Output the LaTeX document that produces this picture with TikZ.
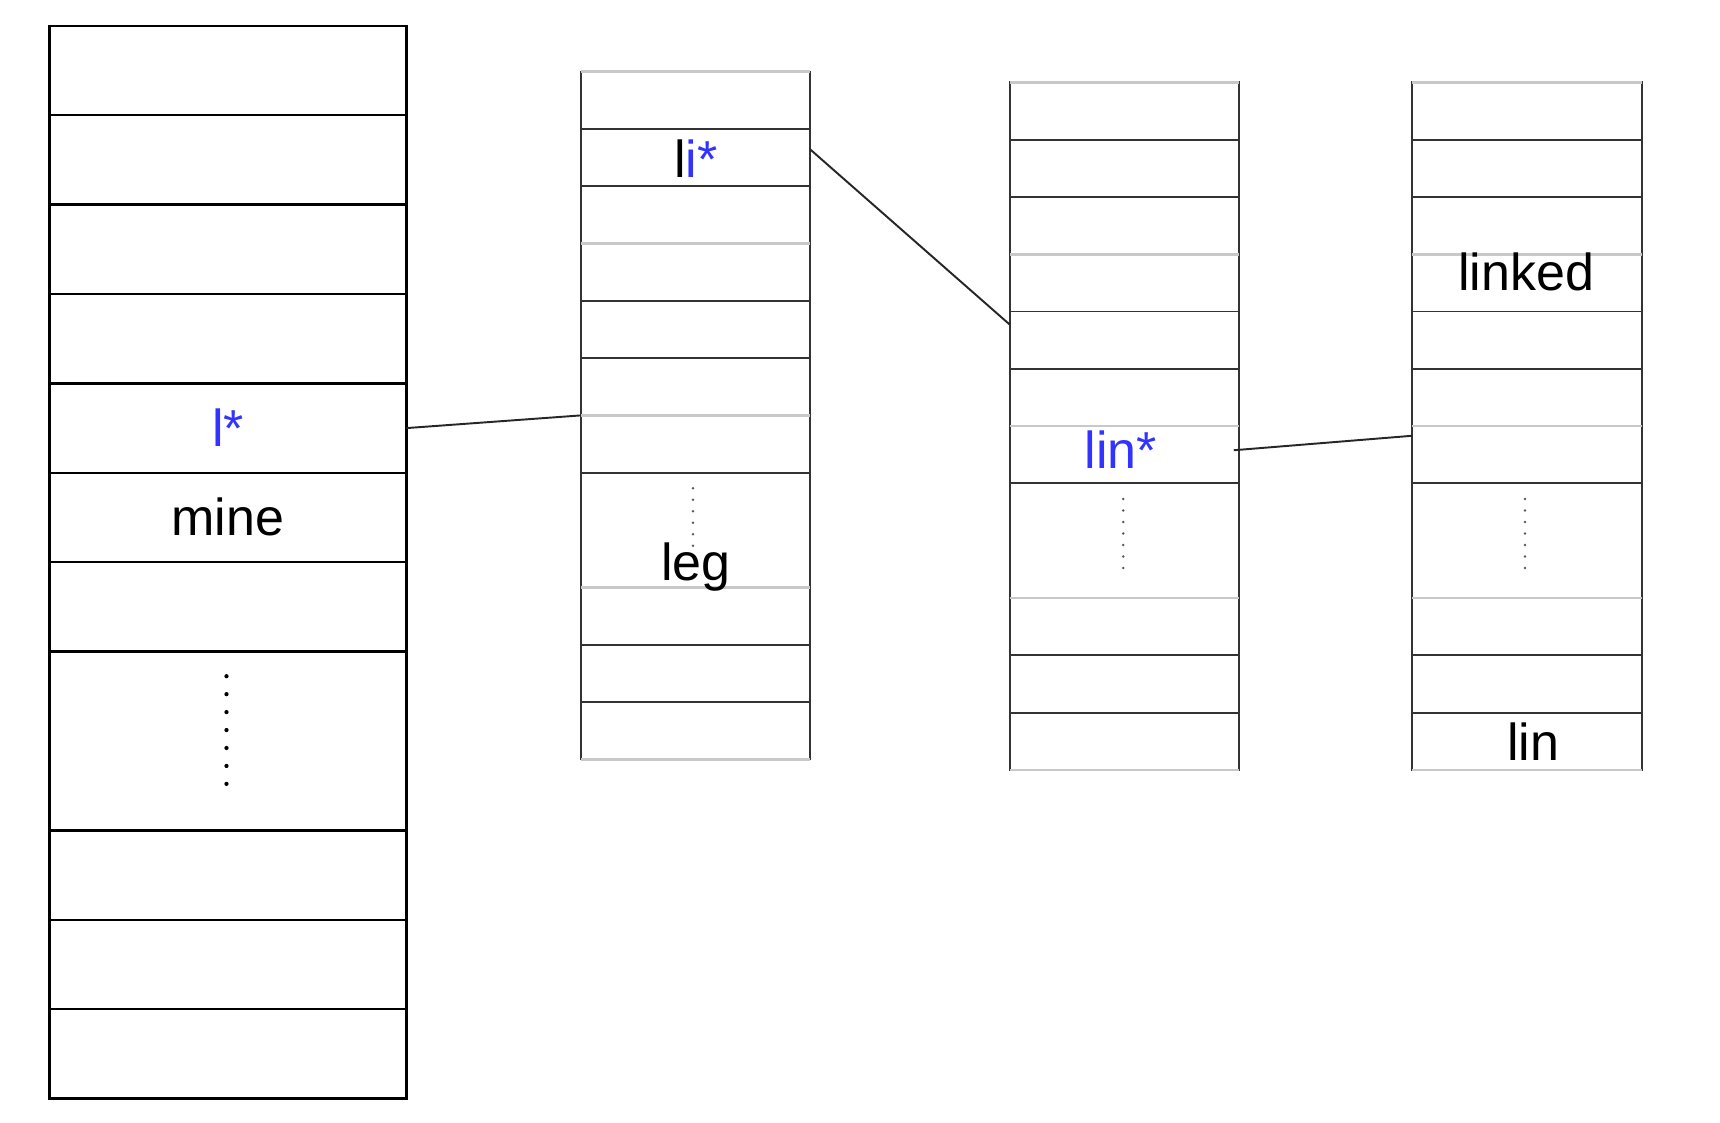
\documentclass[tikz,border=0pt]{standalone}
\usepackage{fontspec}
\setmainfont{Liberation Sans}
\usepackage{color}
\usepackage{tikz}
\definecolor{ptrblue}{RGB}{51,51,255}
\definecolor{celledge}{RGB}{51,51,51}
\definecolor{cellgrey}{RGB}{200,200,200}

\begin{document}
\begin{tikzpicture}[x=0.02cm,y=-0.02cm,
    bigcell/.style={draw=black,line width=1.4pt,minimum width=7.142cm,inner sep=0pt,outer sep=0pt,anchor=north west},
    cell/.style={draw=celledge,line width=1.1pt,minimum width=4.59cm,inner sep=0pt,outer sep=0pt,anchor=north west},
    greyedge/.style={draw=cellgrey,line width=1.5pt},
    word/.style={font=\fontsize{29.6}{35}\selectfont,inner sep=0pt,anchor=base},
    link/.style={draw=black!85,line width=1.1pt},
    bigdots/.style={line width=0.085cm,line cap=round,dash pattern=on 0pt off 0.359cm},
    smalldots/.style={draw=black!65,line width=0.055cm,line cap=round,dash pattern=on 0pt off 0.23cm}]
    \useasboundingbox (0,0) rectangle (1720,1122);
    \foreach \r/\t/\h in {1/0/1,2/1/1,3/2/1,4/3/1,5/4/1,6/5/1,7/6/1,8/7/2,9/9/1,10/10/1,11/11/1}
      \node [bigcell,minimum height=\h*1.788cm] (c1-\r) at (49.4,{25.8+\t*89.4}) {};
    \foreach \c/\x/\y in {2/580.9/71.6,3/1009.8/82.3,4/1412.4/82.3}
      \foreach \r/\t/\h in {1/0/1,2/1/1,3/2/1,4/3/1,5/4/1,6/5/1,7/6/1,8/7/2,9/9/1,10/10/1,11/11/1}
        \node [cell,minimum height=\h*1.146cm] (c\c-\r) at (\x,{\y+\t*57.3}) {};
    \foreach \c in {2,3,4} {
      \foreach \r in {1,4,7,9}
        \draw [greyedge] (c\c-\r.north west) -- (c\c-\r.north east);
      \draw [greyedge] (c\c-11.south west) -- (c\c-11.south east);
    }
    \node [word,text=ptrblue] (lstar) at (228,446.5) {l*};
    \node [word] (mine) at (228,535.6) {mine};
    \node [word] (listar) at (696,177.8) {l\textcolor{ptrblue}{i*}};
    \node [word] (leg) at (696,580) {leg};
    \node [word,text=ptrblue] (linstar) at (1121,468.7) {lin*};
    \node [word] (linked) at (1526,290.5) {linked};
    \node [word] (lin) at (1533,760) {lin};
    \draw [bigdots] (226.5,676.2) -- (226.5,785);
    \draw [smalldots] (693,488.3) -- (693,546.5);
    \draw [smalldots] (1123.3,499) -- (1123.3,568.5);
    \draw [smalldots] (1525,499) -- (1525,568.5);
    \draw [link] (c1-5.east) -- (c2-7.north west);
    \draw [link] ([yshift=0.16cm]c2-2.east) -- ([yshift=0.31cm]c3-5.west);
    \draw [link] ([xshift=-0.11cm,yshift=0.09cm]c3-7.east) -- ([yshift=0.38cm]c4-7.west);
\end{tikzpicture}
\end{document}
